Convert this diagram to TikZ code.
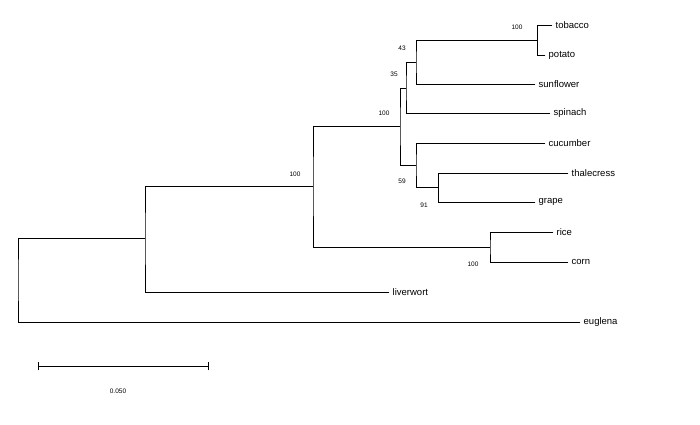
\documentclass[tikz,border=0pt]{standalone}
\usepackage{fontspec}
\setmainfont{Liberation Sans}
\begin{document}
\begin{tikzpicture}[x=1pt,y=-1pt,
  br/.style={line width=0.7pt,black,line cap=rect},
  lf/.style={anchor=west,font=\fontsize{9.5}{9.5}\selectfont,inner sep=3.5pt},
  bs/.style={font=\fontsize{6.5}{6.5}\selectfont,inner sep=1pt}]
\useasboundingbox (0,0) rectangle (700,424);
\coordinate (n1) at (537,40);
\coordinate (n43) at (416,62);
\coordinate (n35) at (406,88);
\coordinate (n59) at (416,165);
\coordinate (n91) at (438,187);
\coordinate (nin) at (400,126);
\coordinate (nrc) at (490,247);
\coordinate (n100) at (313,186);
\coordinate (nlv) at (145,238);
\coordinate (root) at (18,280);
\node[lf] (tob) at (552,25) {tobacco};
\node[lf] (pot) at (545,55) {potato};
\node[lf] (sun) at (535,84) {sunflower};
\node[lf] (spi) at (550,113) {spinach};
\node[lf] (cuc) at (545,143) {cucumber};
\node[lf] (tha) at (568,173) {thalecress};
\node[lf] (gra) at (535,202) {grape};
\node[lf] (ric) at (553,232) {rice};
\node[lf] (cor) at (568,262) {corn};
\node[lf] (liv) at (389,292) {liverwort};
\node[lf] (eug) at (580,322) {euglena};
\draw[br] (tob.west) -| (n1) |- (pot.west);
\draw[br] (n1) -| (n43) |- (sun.west);
\draw[br] (n43) -| (n35) |- (spi.west);
\draw[br] (n91) |- (tha.west);
\draw[br] (n91) |- (gra.west);
\draw[br] (n91) -| (n59) |- (cuc.west);
\draw[br] (n35) -| (nin) |- (n59);
\draw[br] (ric.west) -| (nrc) |- (cor.west);
\draw[br] (nin) -| (n100) |- (nrc);
\draw[br] (n100) -| (nlv) |- (liv.west);
\draw[br] (nlv) -| (root) |- (eug.west);
\node[bs] (b1) at (517,27) {100};
\node[bs] (b2) at (402,48) {43};
\node[bs] (b3) at (394,74) {35};
\node[bs] (b4) at (384,113) {100};
\node[bs] (b5) at (402,181) {59};
\node[bs] (b6) at (424,205) {91};
\node[bs] (b7) at (295,174) {100};
\node[bs] (b8) at (473,264) {100};
\coordinate (s1) at (38,366);
\coordinate (s2) at (208,366);
\draw[br] (s1) -- (s2);
\draw[br] ([yshift=-4]s1) -- ([yshift=4]s1);
\draw[br] ([yshift=-4]s2) -- ([yshift=4]s2);
\node[bs] (sc) at (118,391) {0.050};
\end{tikzpicture}
\end{document}
